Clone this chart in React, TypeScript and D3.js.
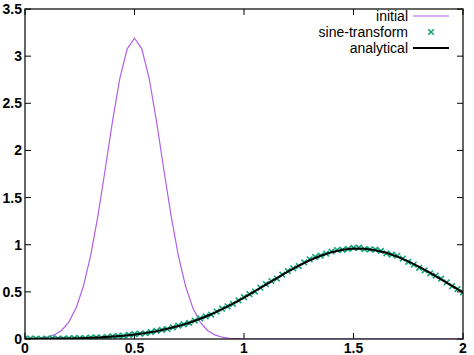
import { useEffect, useRef } from "react";
import * as d3 from "d3";

// initial profile, sampled every 1/30 from 0 to 1 (zero after that)
const initialX = d3.range(0, 31).map((k) => k / 30);
const initialY = [
	0.001, 0.003, 0.008, 0.019, 0.043, 0.091, 0.179, 0.328, 0.559, 0.887,
	1.311, 1.806, 2.317, 2.768, 3.078, 3.19, 3.078, 2.768, 2.317, 1.806,
	1.311, 0.887, 0.559, 0.328, 0.179, 0.091, 0.043, 0.019, 0.008, 0.003,
	0.001,
];
const initialTail: [number, number][] = [
	[1.5, 0],
	[2, 0],
];

// analytical solution, every 0.05
const analyticalX = d3.range(0, 41).map((k) => k * 0.05);
const analyticalY = [
	0.001, 0.002, 0.003, 0.004, 0.006, 0.009, 0.013, 0.018, 0.026, 0.035,
	0.047, 0.063, 0.083, 0.108, 0.137, 0.173, 0.215, 0.262, 0.316, 0.375,
	0.439, 0.507, 0.577, 0.646, 0.714, 0.778, 0.835, 0.883, 0.921, 0.947,
	0.959, 0.957, 0.942, 0.914, 0.874, 0.824, 0.765, 0.701, 0.632, 0.563,
	0.493,
];

// sine-transform result, every 0.025
const sineX = d3.range(0, 81).map((k) => k * 0.025);
const sineY = [
	0.003, 0.005, 0.004, 0.002, 0.004, 0.006, 0.005, 0.004, 0.007, 0.01,
	0.009, 0.01, 0.015, 0.017, 0.016, 0.021, 0.029, 0.032, 0.034, 0.043,
	0.052, 0.056, 0.061, 0.074, 0.087, 0.096, 0.106, 0.124, 0.141, 0.156,
	0.171, 0.195, 0.219, 0.24, 0.259, 0.291, 0.321, 0.347, 0.372, 0.409,
	0.444, 0.475, 0.503, 0.544, 0.582, 0.614, 0.641, 0.682, 0.72, 0.75,
	0.774, 0.812, 0.845, 0.87, 0.885, 0.906, 0.928, 0.944, 0.946, 0.955,
	0.967, 0.968, 0.953, 0.95, 0.948, 0.934, 0.908, 0.896, 0.883, 0.853,
	0.818, 0.79, 0.755, 0.728, 0.697, 0.672, 0.64, 0.6, 0.56, 0.53,
	0.495,
];

const xTicks = [0, 0.5, 1, 1.5, 2];
const yTicks = [0, 0.5, 1, 1.5, 2, 2.5, 3, 3.5];
const legendLabels = ["initial", "sine-transform", "analytical"];

const App = () => {
	const svgRef = useRef<SVGSVGElement>(null);

	useEffect(() => {
		if (!svgRef.current) return;
		const width = 474;
		const height = 355;
		const margin = { top: 9, right: 11, bottom: 16, left: 25 };

		const svg = d3.select(svgRef.current);
		svg.selectAll("*").remove();

		const x = d3
			.scaleLinear()
			.domain([0, 2])
			.range([margin.left, width - margin.right]);
		const y = d3
			.scaleLinear()
			.domain([0, 3.5])
			.range([height - margin.bottom, margin.top]);

		const purple = "#b060e8";
		const green = "#14a57a";
		const font = "'Liberation Sans', Arial, sans-serif";

		svg
			.append("defs")
			.append("clipPath")
			.attr("id", "plot-clip")
			.append("rect")
			.attr("x", x(0))
			.attr("y", y(3.5))
			.attr("width", x(2) - x(0))
			.attr("height", y(0) - y(3.5));

		// tick marks (inward, mirrored on all sides)
		const tickLen = 6;
		const ticks = svg.append("g").attr("stroke", "#000").attr("stroke-width", 1);
		xTicks.forEach((t) => {
			ticks.append("line").attr("x1", x(t)).attr("x2", x(t)).attr("y1", y(0)).attr("y2", y(0) - tickLen);
			ticks.append("line").attr("x1", x(t)).attr("x2", x(t)).attr("y1", y(3.5)).attr("y2", y(3.5) + tickLen);
		});
		yTicks.forEach((t) => {
			ticks.append("line").attr("x1", x(0)).attr("x2", x(0) + tickLen).attr("y1", y(t)).attr("y2", y(t));
			ticks.append("line").attr("x1", x(2)).attr("x2", x(2) - tickLen).attr("y1", y(t)).attr("y2", y(t));
		});

		// tick labels
		svg
			.append("g")
			.selectAll("text")
			.data(xTicks)
			.enter()
			.append("text")
			.attr("x", (d) => x(d))
			.attr("y", 353)
			.attr("text-anchor", "middle")
			.style("font-family", font)
			.style("font-weight", "bold")
			.style("font-size", "14px")
			.text((d) => String(d));

		svg
			.append("g")
			.selectAll("text")
			.data(yTicks)
			.enter()
			.append("text")
			.attr("x", 22)
			.attr("y", (d) => y(d))
			.attr("dy", "0.36em")
			.attr("text-anchor", "end")
			.style("font-family", font)
			.style("font-weight", "bold")
			.style("font-size", "14px")
			.text((d) => String(d));

		const plot = svg.append("g").attr("clip-path", "url(#plot-clip)");

		const line = d3
			.line<[number, number]>()
			.x((d) => x(d[0]))
			.y((d) => y(d[1]));

		const initialData: [number, number][] = initialX
			.map((v, i) => [v, initialY[i]] as [number, number])
			.concat(initialTail);
		plot
			.append("path")
			.attr("d", line(initialData))
			.attr("fill", "none")
			.attr("stroke", purple)
			.attr("stroke-width", 1.2);

		// sine-transform crosses
		const s = 2.8;
		const crossPath = (cx: number, cy: number) =>
			`M${cx - s},${cy - s}L${cx + s},${cy + s}M${cx - s},${cy + s}L${cx + s},${cy - s}`;
		plot
			.append("path")
			.attr("d", sineX.map((v, i) => crossPath(x(v), y(sineY[i]))).join(""))
			.attr("fill", "none")
			.attr("stroke", green)
			.attr("stroke-width", 1.6);

		const analyticalData: [number, number][] = analyticalX.map((v, i) => [v, analyticalY[i]]);
		plot
			.append("path")
			.attr("d", line(analyticalData))
			.attr("fill", "none")
			.attr("stroke", "#000")
			.attr("stroke-width", 2);

		// frame
		svg
			.append("rect")
			.attr("x", x(0))
			.attr("y", y(3.5))
			.attr("width", x(2) - x(0))
			.attr("height", y(0) - y(3.5))
			.attr("fill", "none")
			.attr("stroke", "#000")
			.attr("stroke-width", 1.2);

		// legend
		const legend = svg.append("g");
		legendLabels.forEach((label, i) => {
			const ly = 16 + i * 16;
			legend
				.append("text")
				.attr("x", 408)
				.attr("y", ly)
				.attr("dy", "0.36em")
				.attr("text-anchor", "end")
				.style("font-family", font)
				.style("font-size", "14px")
				.text(label);
			if (i === 1) {
				legend
					.append("path")
					.attr("d", crossPath(431, ly))
					.attr("fill", "none")
					.attr("stroke", green)
					.attr("stroke-width", 1.6);
			} else {
				legend
					.append("line")
					.attr("x1", 413)
					.attr("x2", 449)
					.attr("y1", ly)
					.attr("y2", ly)
					.attr("stroke", i === 0 ? purple : "#000")
					.attr("stroke-width", i === 0 ? 1.2 : 2);
			}
		});
	}, []);

	return (
		<svg
			ref={svgRef}
			width={474}
			height={355}
			style={{ position: "absolute", left: 0, top: 0, background: "#fff" }}
		></svg>
	);
};

export default App;
